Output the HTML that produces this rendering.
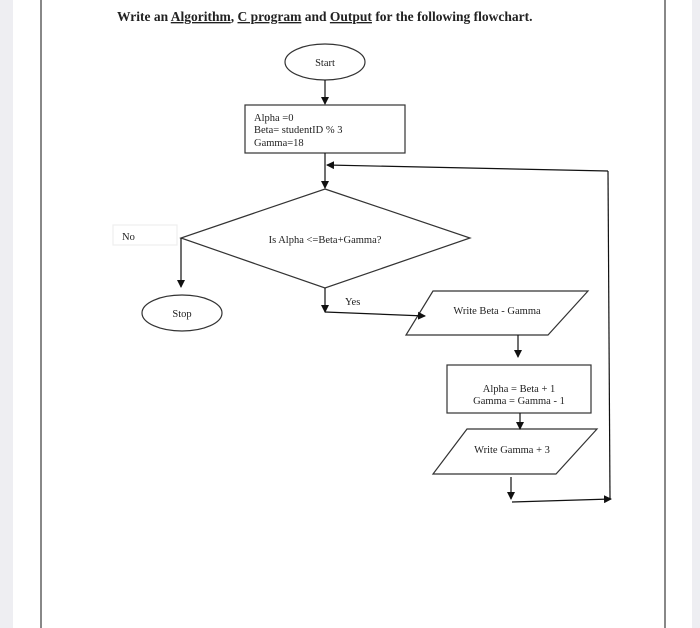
<!DOCTYPE html>
<html><head><meta charset="utf-8"><style>
body{margin:0;width:700px;height:628px;background:#fff;overflow:hidden}
svg{display:block}
text{font-family:"Liberation Serif",serif;fill:#222}
</style></head><body>
<svg width="700" height="628" viewBox="0 0 700 628" xmlns="http://www.w3.org/2000/svg">
<defs><marker id="a" markerWidth="8" markerHeight="8" refX="7" refY="4" orient="auto" markerUnits="userSpaceOnUse"><path d="M0,0 L8,4 L0,8z" fill="#111"/></marker></defs>
<rect x="0" y="0" width="13" height="628" fill="#eeeef2"/>
<rect x="692" y="0" width="8" height="628" fill="#eeeef2"/>
<line x1="41" y1="0" x2="41" y2="628" stroke="#888" stroke-width="2"/>
<line x1="665" y1="0" x2="665" y2="628" stroke="#888" stroke-width="2"/>
<text x="117" y="21" font-size="13.5" font-weight="bold">Write an <tspan text-decoration="underline">Algorithm</tspan>, <tspan text-decoration="underline">C program</tspan> and <tspan text-decoration="underline">Output</tspan> for the following flowchart.</text>
<g stroke="#333" stroke-width="1.2" fill="none">
<ellipse cx="325" cy="62" rx="40" ry="18"/>
<rect x="245" y="105" width="160" height="48"/>
<polygon points="325,189 470,238 325,288 181,238"/>
<ellipse cx="182" cy="313" rx="40" ry="18"/>
<polygon points="433,291 588,291 548,335 406,335"/>
<rect x="447" y="365" width="144" height="48"/>
<polygon points="467,429 597,429 556,474 433,474"/>
<rect x="113" y="225" width="64" height="20" stroke="#eee"/>
</g>
<g stroke="#111" stroke-width="1.2" fill="none" marker-end="url(#a)">
<line x1="325" y1="80" x2="325" y2="104"/>
<line x1="325" y1="153" x2="325" y2="188"/>
<line x1="608" y1="171" x2="327" y2="165"/>
<line x1="181" y1="238" x2="181" y2="287"/>
<line x1="325" y1="288" x2="325" y2="312"/>
<polyline points="325,312 425,316"/>
<line x1="518" y1="335" x2="518" y2="357"/>
<line x1="520" y1="413" x2="520" y2="429"/>
<line x1="511" y1="477" x2="511" y2="499"/>
<polyline points="512,502 611,499"/>
</g>
<line x1="610" y1="499" x2="608" y2="171" stroke="#111" stroke-width="1.2"/>
<g font-size="10.5">
<text x="325" y="66" text-anchor="middle">Start</text>
<text x="254" y="121">Alpha =0</text>
<text x="254" y="133">Beta= studentID % 3</text>
<text x="254" y="146">Gamma=18</text>
<text x="325" y="243" text-anchor="middle">Is  Alpha &lt;=Beta+Gamma?</text>
<text x="122" y="240">No</text>
<text x="182" y="317" text-anchor="middle">Stop</text>
<text x="345" y="305">Yes</text>
<text x="497" y="314" text-anchor="middle">Write   Beta - Gamma</text>
<text x="519" y="392" text-anchor="middle">Alpha = Beta + 1</text>
<text x="519" y="404" text-anchor="middle">Gamma = Gamma - 1</text>
<text x="512" y="453" text-anchor="middle">Write Gamma + 3</text>
</g>
</svg>
</body></html>
